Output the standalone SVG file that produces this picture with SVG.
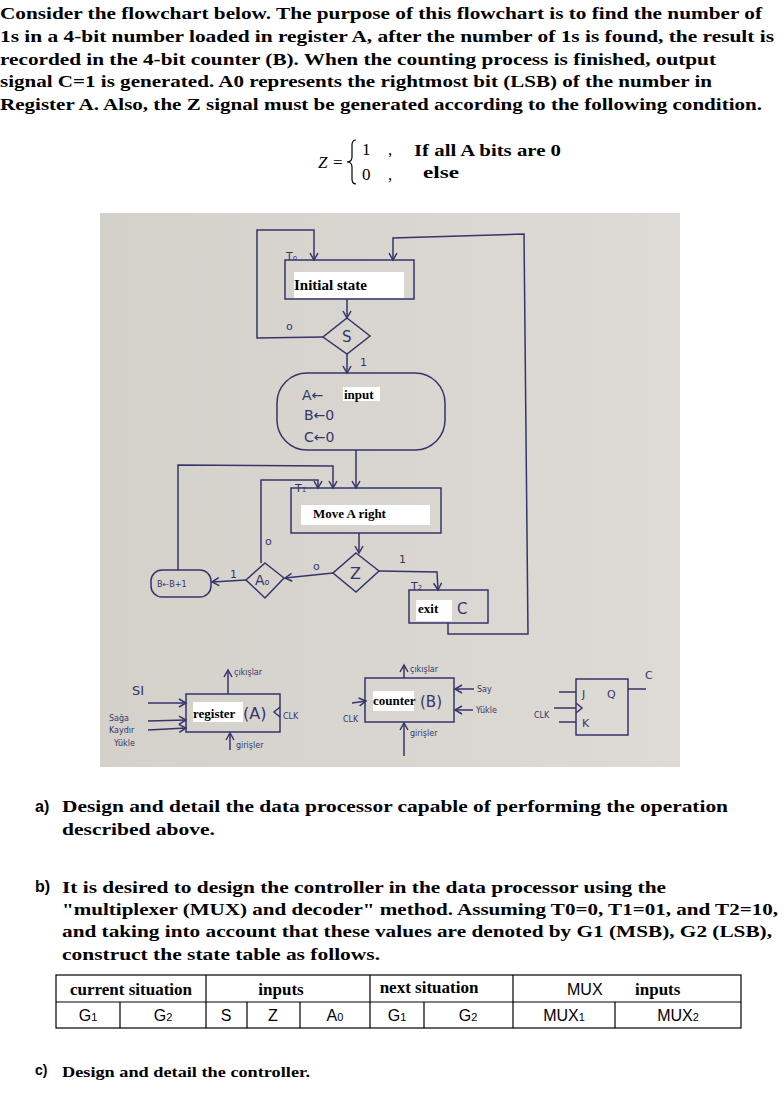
<svg xmlns="http://www.w3.org/2000/svg" width="784" height="1118" viewBox="0 0 784 1118">
<defs>
<style>
.h{font-family:"Liberation Serif",serif;font-weight:bold;font-size:17.5px;fill:#000}
.q{font-family:"Liberation Serif",serif;font-weight:bold;font-size:17.5px;fill:#000}
.l{font-family:"Liberation Sans",sans-serif;font-weight:bold;font-size:16px;fill:#000}
.pen{fill:none;stroke:#35356a;stroke-width:1.5}
.hw{font-family:"DejaVu Sans",sans-serif;fill:#35356a}
.hs{font-family:"DejaVu Sans",sans-serif;font-size:8px;fill:#35356a}
.lab{font-family:"Liberation Serif",serif;font-weight:bold;fill:#000}
.t1{font-family:"Liberation Serif",serif;font-weight:bold;font-size:17px;fill:#000}
.t2{font-family:"Liberation Sans",sans-serif;font-size:16px;fill:#000}
.cell{fill:none;stroke:#000;stroke-width:1.2}
</style>
<marker id="ar" markerWidth="10" markerHeight="10" refX="8" refY="5" orient="auto" markerUnits="userSpaceOnUse"><path d="M1,1 L8,5 L1,9" fill="none" stroke="#35356a" stroke-width="1.5"/></marker>
<linearGradient id="bg" x1="0" y1="0" x2="1" y2="0"><stop offset="0" stop-color="#d4d1cb"/><stop offset="1" stop-color="#dedbd6"/></linearGradient>
</defs>
<rect width="784" height="1118" fill="#fff"/>
<g id="header">
<text class="h" x="0" y="19" textLength="762" lengthAdjust="spacingAndGlyphs">Consider the flowchart below. The purpose of this flowchart is to find the number of</text>
<text class="h" x="0" y="42" textLength="774" lengthAdjust="spacingAndGlyphs">1s in a 4-bit number loaded in register A, after the number of 1s is found, the result is</text>
<text class="h" x="0" y="65" textLength="716" lengthAdjust="spacingAndGlyphs">recorded in the 4-bit counter (B). When the counting process is finished, output</text>
<text class="h" x="0" y="87" textLength="712" lengthAdjust="spacingAndGlyphs">signal C=1 is generated. A0 represents the rightmost bit (LSB) of the number in</text>
<text class="h" x="0" y="110" textLength="762" lengthAdjust="spacingAndGlyphs">Register A. Also, the Z signal must be generated according to the following condition.</text>
<text x="318" y="168" font-family="Liberation Serif,serif" font-style="italic" font-size="17">Z</text>
<text x="333" y="168" font-family="Liberation Serif,serif" font-size="17">=</text>
<path d="M356,140 q-4,0 -4,5 v12 q0,5 -5,5 q5,0 5,5 v12 q0,5 4,5" fill="none" stroke="#000" stroke-width="1.2"/>
<text x="362" y="155" font-family="Liberation Serif,serif" font-size="17">1</text>
<text x="388" y="155" font-family="Liberation Serif,serif" font-size="17">,</text>
<text x="362" y="180" font-family="Liberation Serif,serif" font-size="17">0</text>
<text x="388" y="180" font-family="Liberation Serif,serif" font-size="17">,</text>
<text class="q" x="414" y="156" textLength="147" lengthAdjust="spacingAndGlyphs">If all A bits are 0</text>
<text class="q" x="423" y="178" textLength="36" lengthAdjust="spacingAndGlyphs">else</text>
</g>
<g id="photo">
<rect x="100" y="213" width="580" height="554" fill="url(#bg)"/>
</g>
<g id="connectors">
<path class="pen" d="M323,337 L257,338 L257,230 L314,230 L314,260" marker-end="url(#ar)"/>
<path class="pen" d="M448,623 L448,634 L528,634 L524,234 L393,238 L393,260" marker-end="url(#ar)"/>
<path class="pen" d="M347,299 L347,318" marker-end="url(#ar)"/>
<path class="pen" d="M347,354 L347,373" marker-end="url(#ar)"/>
<path class="pen" d="M356,450 L356,488" marker-end="url(#ar)"/>
<path class="pen" d="M261,563 L261,480 L318,480 L318,488" marker-end="url(#ar)"/>
<path class="pen" d="M178,570 L178,465 L333,466 L333,488" marker-end="url(#ar)"/>
<path class="pen" d="M359,533 L359,553" marker-end="url(#ar)"/>
<path class="pen" d="M333,573 L285,578" marker-end="url(#ar)"/>
<path class="pen" d="M246,580 L212,582" marker-end="url(#ar)"/>
<path class="pen" d="M379,571 L437,572 L438,590" marker-end="url(#ar)"/>
</g>
<g id="flow-labels">
<text class="hw" style="font-size:11px" x="286" y="260">T<tspan style="font-size:7px">o</tspan></text>
<text class="hw" style="font-size:11px" x="286" y="330">o</text>
<text class="hw" style="font-size:11px" x="360" y="366">1</text>
<text class="hw" style="font-size:11px" x="295" y="492">T<tspan style="font-size:7px">1</tspan></text>
<text class="hw" style="font-size:11px" x="313" y="570">o</text>
<text class="hw" style="font-size:11px" x="230" y="578">1</text>
<text class="hw" style="font-size:11px" x="399" y="563">1</text>
<text class="hw" style="font-size:11px" x="411" y="590">T<tspan style="font-size:7px">2</tspan></text>
<text class="hw" style="font-size:11px" x="265" y="545">o</text>
</g>
<g id="n-initial">
<rect class="pen" x="285" y="260" width="129" height="39"/>
<rect x="294" y="272" width="110" height="26" fill="#fff"/>
<text class="lab" style="font-size:15px" x="294" y="290">Initial state</text>
</g>
<g id="n-s">
<path class="pen" d="M347,318 L370,336 L347,354 L323,337 Z"/>
<text class="hw" style="font-size:15px" x="342" y="342">S</text>
</g>
<g id="n-init">
<rect class="pen" x="277" y="373" width="168" height="77" rx="30"/>
<text class="hw" style="font-size:14px" x="302" y="400">A←</text>
<rect x="343" y="387" width="37" height="14" fill="#fff"/>
<text class="lab" style="font-size:13px" x="344" y="399">input</text>
<text class="hw" style="font-size:14px" x="304" y="420">B←0</text>
<text class="hw" style="font-size:14px" x="304" y="442">C←0</text>
</g>
<g id="n-move">
<rect class="pen" x="291" y="488" width="150" height="45"/>
<rect x="301" y="505" width="129" height="20" fill="#fff"/>
<text class="lab" style="font-size:13px" x="313" y="518">Move A right</text>
</g>
<g id="n-z">
<path class="pen" d="M356,553 L379,571 L356,592 L333,573 Z"/>
<text class="hw" style="font-size:16px" x="350" y="579">Z</text>
</g>
<g id="n-a0">
<path class="pen" d="M265,563 L284,578 L265,598 L246,580 Z"/>
<text class="hw" style="font-size:14px" x="255" y="585">A<tspan style="font-size:8px">o</tspan></text>
</g>
<g id="n-b">
<rect class="pen" x="151" y="570" width="60" height="27" rx="11"/>
<text class="hs" x="157" y="587">B←B+1</text>
</g>
<g id="n-exit">
<rect class="pen" x="409" y="590" width="79" height="33"/>
<rect x="416" y="600" width="36" height="21" fill="#fff"/>
<text class="lab" style="font-size:13px" x="418" y="613">exit</text>
<text class="hw" style="font-size:15px" x="457" y="614">C</text>
</g>
<g id="n-register">
<rect class="pen" x="186" y="694" width="94" height="38"/>
<rect x="193" y="702" width="50" height="20" fill="#fff"/>
<text class="lab" style="font-size:13px" x="193" y="718">register</text>
<text class="hw" style="font-size:16px" x="243" y="719">(A)</text>
<path class="pen" d="M280,707 L274,712 L280,717"/>
<text class="hs" x="283" y="719">CLK</text>
<text class="hw" style="font-size:13px" x="132" y="695">SI</text>
<path class="pen" d="M148,703 L186,703" marker-end="url(#ar)"/>
<path class="pen" d="M148,721 L186,720" marker-end="url(#ar)"/>
<path class="pen" d="M148,730 L186,728" marker-end="url(#ar)"/>
<text class="hs" x="109" y="721">Sağa</text>
<text class="hs" x="109" y="733">Kaydır</text>
<text class="hs" x="114" y="746">Yükle</text>
<path class="pen" d="M228,694 L228,670" marker-end="url(#ar)"/>
<text class="hs" x="234" y="675">çıkışlar</text>
<path class="pen" d="M230,750 L230,733" marker-end="url(#ar)"/>
<text class="hs" x="236" y="748">girişler</text>
</g>
<g id="n-counter">
<rect class="pen" x="365" y="678" width="89" height="44"/>
<rect x="373" y="691" width="41" height="20" fill="#fff"/>
<text class="lab" style="font-size:13px" x="373" y="705">counter</text>
<text class="hw" style="font-size:15px" x="420" y="707">(B)</text>
<text class="hs" x="343" y="722">CLK</text>
<path class="pen" d="M352,703 L366,701" marker-end="url(#ar)"/>
<path class="pen" d="M474,689 L455,689" marker-end="url(#ar)"/>
<text class="hs" x="477" y="692">Say</text>
<path class="pen" d="M473,710 L455,710" marker-end="url(#ar)"/>
<text class="hs" x="476" y="713">Yükle</text>
<path class="pen" d="M404,678 L404,665" marker-end="url(#ar)"/>
<text class="hs" x="410" y="672">çıkışlar</text>
<path class="pen" d="M404,756 L404,723" marker-end="url(#ar)"/>
<text class="hs" x="410" y="736">girişler</text>
</g>
<g id="n-jk">
<rect class="pen" x="576" y="679" width="52" height="56"/>
<path class="pen" d="M559,692 L576,692 M559,722 L576,722 M554,708 L576,708 M576,703 L582,708 L576,713 M628,689 L646,689"/>
<text class="hw" style="font-size:11px" x="582" y="698">J</text>
<text class="hw" style="font-size:11px" x="607" y="698">Q</text>
<text class="hw" style="font-size:11px" x="582" y="727">K</text>
<text class="hs" x="534" y="718">CLK</text>
<text class="hw" style="font-size:11px" x="645" y="679">C</text>
</g>
<g id="questions">
<text class="l" x="35" y="812">a)</text>
<text class="q" x="62" y="812" textLength="666" lengthAdjust="spacingAndGlyphs">Design and detail the data processor capable of performing the operation</text>
<text class="q" x="62" y="835" textLength="153" lengthAdjust="spacingAndGlyphs">described above.</text>
<text class="l" x="35" y="892">b)</text>
<text class="q" x="62" y="893" textLength="604" lengthAdjust="spacingAndGlyphs">It is desired to design the controller in the data processor using the</text>
<text class="q" x="62" y="915" textLength="716" lengthAdjust="spacingAndGlyphs">"multiplexer (MUX) and decoder" method. Assuming T0=0, T1=01, and T2=10,</text>
<text class="q" x="62" y="937" textLength="710" lengthAdjust="spacingAndGlyphs">and taking into account that these values are denoted by G1 (MSB), G2 (LSB),</text>
<text class="q" x="62" y="960" textLength="318" lengthAdjust="spacingAndGlyphs">construct the state table as follows.</text>
<text class="l" style="font-size:14px" x="35" y="1075">c)</text>
<text class="q" style="font-size:15px" x="62" y="1077" textLength="248" lengthAdjust="spacingAndGlyphs">Design and detail the controller.</text>
</g>
<g id="table">
<rect class="cell" x="56" y="975" width="685" height="53"/>
<path class="cell" d="M56,1002 H741 M206,975 V1028 M370,975 V1028 M513,975 V1028 M120,1002 V1028 M247,1002 V1028 M300,1002 V1028 M424,1002 V1028 M615,1002 V1028"/>
<text class="t1" x="131" y="995" text-anchor="middle">current situation</text>
<text class="t1" x="281" y="995" text-anchor="middle">inputs</text>
<text class="t1" x="429" y="993" text-anchor="middle">next situation</text>
<text class="t2" x="567" y="995">MUX</text>
<text class="t1" x="635" y="995">inputs</text>
<text class="t2" x="88" y="1021" text-anchor="middle">G<tspan style="font-size:11px">1</tspan></text>
<text class="t2" x="163" y="1021" text-anchor="middle">G<tspan style="font-size:11px">2</tspan></text>
<text class="t2" x="226" y="1021" text-anchor="middle">S</text>
<text class="t2" x="273" y="1021" text-anchor="middle">Z</text>
<text class="t2" x="335" y="1021" text-anchor="middle">A<tspan style="font-size:11px">0</tspan></text>
<text class="t2" x="397" y="1021" text-anchor="middle">G<tspan style="font-size:11px">1</tspan></text>
<text class="t2" x="468" y="1021" text-anchor="middle">G<tspan style="font-size:11px">2</tspan></text>
<text class="t2" x="564" y="1021" text-anchor="middle">MUX<tspan style="font-size:11px">1</tspan></text>
<text class="t2" x="678" y="1021" text-anchor="middle">MUX<tspan style="font-size:11px">2</tspan></text>
</g>
</svg>
